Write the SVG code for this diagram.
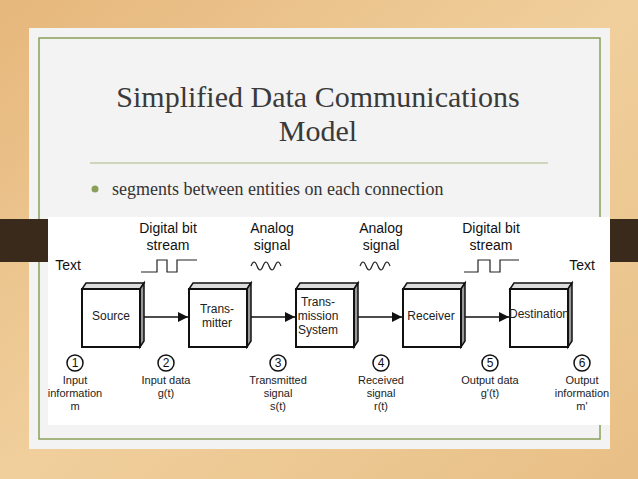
<svg xmlns="http://www.w3.org/2000/svg" width="638" height="479" viewBox="0 0 638 479">
<defs>
<linearGradient id="wood" x1="0" y1="0" x2="1" y2="1"><stop offset="0" stop-color="#e6b77c"/><stop offset="0.5" stop-color="#f0cf9c"/><stop offset="1" stop-color="#e8bf86"/></linearGradient>
<marker id="ah" viewBox="0 0 10 10" refX="10" refY="5" markerWidth="7" markerHeight="7" orient="auto"><path d="M0,0 L10,5 L0,10 z" fill="#111"/></marker>
<style>
.s{font-family:"Liberation Sans",Arial,sans-serif;font-size:12px;fill:#222;text-anchor:middle}
.h{font-family:"Liberation Sans",Arial,sans-serif;font-size:14px;fill:#111;text-anchor:middle}
.b{font-family:"Liberation Sans",Arial,sans-serif;font-size:11px;fill:#222;text-anchor:middle}
.n{font-family:"Liberation Sans",Arial,sans-serif;font-size:12px;fill:#111;text-anchor:middle}
.front{fill:#fff;stroke:#111;stroke-width:2}
.side{fill:#999;stroke:#111;stroke-width:1.5}
.top{fill:#ddd;stroke:#111;stroke-width:1.5}
.w{fill:none;stroke:#222;stroke-width:1.2}
.c{fill:#fff;stroke:#111;stroke-width:1.5}
</style>
</defs>
<rect width="638" height="479" fill="url(#wood)"/>
<rect x="29" y="28" width="581" height="421" fill="#f3f3f3"/>
<rect x="39" y="38" width="561" height="401" fill="none" stroke="#8aa05a" stroke-width="1.5"/>
<text x="318" y="107" font-family="'Liberation Serif',Georgia,serif" font-size="30" fill="#3a3a3a" text-anchor="middle">Simplified Data Communications</text>
<text x="318" y="141" font-family="'Liberation Serif',Georgia,serif" font-size="30" fill="#3a3a3a" text-anchor="middle">Model</text>
<line x1="90" y1="163" x2="548" y2="163" stroke="#a8b888" stroke-width="1"/>
<circle cx="95" cy="189" r="3.5" fill="#8aa05a"/>
<text x="112" y="195" font-family="'Liberation Serif',Georgia,serif" font-size="18" fill="#333">segments between entities on each connection</text>
<rect x="0" y="219" width="48" height="43" fill="#3a2a1c"/>
<rect x="610" y="219" width="28" height="43" fill="#3a2a1c"/>
<rect x="48" y="217" width="562" height="208" fill="#fff"/>
<g id="connectors">
<line x1="143" y1="317" x2="188" y2="317" stroke="#111" stroke-width="1.5" marker-end="url(#ah)"/>
<line x1="250" y1="317" x2="295" y2="317" stroke="#111" stroke-width="1.5" marker-end="url(#ah)"/>
<line x1="356" y1="317" x2="402" y2="317" stroke="#111" stroke-width="1.5" marker-end="url(#ah)"/>
<line x1="464" y1="317" x2="509" y2="317" stroke="#111" stroke-width="1.5" marker-end="url(#ah)"/>
</g>
<g id="source"><path class="top" d="M82,289 L86,283 L144,283 L140,289 Z"/><path class="side" d="M140,289 L144,283 L144,341 L140,347 Z"/><rect class="front" x="82" y="289" width="58" height="58"/><text class="s" x="111" y="320">Source</text></g>
<g id="transmitter"><path class="top" d="M189,289 L193,283 L251,283 L247,289 Z"/><path class="side" d="M247,289 L251,283 L251,341 L247,347 Z"/><rect class="front" x="189" y="289" width="58" height="58"/><text class="s" x="217" y="313">Trans-</text><text class="s" x="217" y="327">mitter</text></g>
<g id="system"><path class="top" d="M296,289 L300,283 L358,283 L354,289 Z"/><path class="side" d="M354,289 L358,283 L358,341 L354,347 Z"/><rect class="front" x="296" y="289" width="58" height="58"/><text class="s" x="318" y="306">Trans-</text><text class="s" x="318" y="320">mission</text><text class="s" x="318" y="334">System</text></g>
<g id="receiver"><path class="top" d="M403,289 L407,283 L465,283 L461,289 Z"/><path class="side" d="M461,289 L465,283 L465,341 L461,347 Z"/><rect class="front" x="403" y="289" width="58" height="58"/><text class="s" x="431" y="320">Receiver</text></g>
<g id="destination"><path class="top" d="M510,289 L514,283 L572,283 L568,289 Z"/><path class="side" d="M568,289 L572,283 L572,341 L568,347 Z"/><rect class="front" x="510" y="289" width="58" height="58"/><text class="s" x="539" y="318">Destination</text></g>
<g id="headers">
<text class="h" x="168" y="233">Digital bit</text><text class="h" x="168" y="250">stream</text>
<path class="w" d="M141,272 H157 V260 H167 V272 H177 V260 H197"/>
<text class="h" x="272" y="233">Analog</text><text class="h" x="272" y="250">signal</text>
<path class="w" d="M251,266 q3,-8 6,0 t6,0 t6,0 t6,0 t6,0"/>
<text class="h" x="381" y="233">Analog</text><text class="h" x="381" y="250">signal</text>
<path class="w" d="M360,266 q3,-8 6,0 t6,0 t6,0 t6,0 t6,0"/>
<text class="h" x="491" y="233">Digital bit</text><text class="h" x="491" y="250">stream</text>
<path class="w" d="M464,272 H478 V260 H490 V272 H500 V260 H519"/>
<text class="h" x="68" y="270">Text</text>
<text class="h" x="582" y="270">Text</text>
</g>
<g id="labels">
<circle class="c" cx="75" cy="363" r="8"/><text class="n" x="75" y="367">1</text>
<text class="b" x="75" y="384">Input</text><text class="b" x="75" y="397">information</text><text class="b" x="75" y="410">m</text>
<circle class="c" cx="166" cy="363" r="8"/><text class="n" x="166" y="367">2</text>
<text class="b" x="166" y="384">Input data</text><text class="b" x="166" y="397">g(t)</text>
<circle class="c" cx="278" cy="363" r="8"/><text class="n" x="278" y="367">3</text>
<text class="b" x="278" y="384">Transmitted</text><text class="b" x="278" y="397">signal</text><text class="b" x="278" y="410">s(t)</text>
<circle class="c" cx="381" cy="363" r="8"/><text class="n" x="381" y="367">4</text>
<text class="b" x="381" y="384">Received</text><text class="b" x="381" y="397">signal</text><text class="b" x="381" y="410">r(t)</text>
<circle class="c" cx="490" cy="363" r="8"/><text class="n" x="490" y="367">5</text>
<text class="b" x="490" y="384">Output data</text><text class="b" x="490" y="397">g'(t)</text>
<circle class="c" cx="582" cy="363" r="8"/><text class="n" x="582" y="367">6</text>
<text class="b" x="582" y="384">Output</text><text class="b" x="582" y="397">information</text><text class="b" x="582" y="410">m'</text>
</g>
</svg>
